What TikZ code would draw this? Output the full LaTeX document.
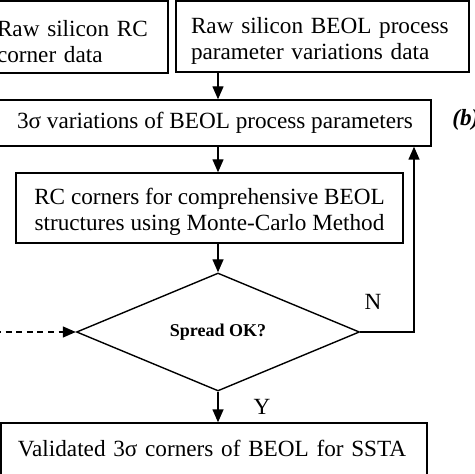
\documentclass[tikz,border=0pt]{standalone}
\usepackage{fontspec}
\setmainfont{Liberation Serif}
\usetikzlibrary{shapes.geometric,arrows.meta}
\newcommand{\uplift}{\rule{0pt}{12.2pt}}
\begin{document}
\begin{tikzpicture}[x=0.5pt,y=-0.5pt,
  box/.style={draw,line width=0.7pt,inner sep=0pt,font=\fontsize{11.6}{13}\selectfont},
  decide/.style={draw,diamond,line width=0.7pt,inner sep=0pt,minimum width=141.5pt,minimum height=59pt,font=\fontsize{9}{11}\selectfont\bfseries},
  arr/.style={line width=0.7pt,-{Triangle[length=6.5pt,width=5.5pt]}},
  lbl/.style={font=\fontsize{11.6}{13}\selectfont,inner sep=0pt}]
\useasboundingbox (0,0) rectangle (474,474);
\node[box,minimum width=94pt,minimum height=36pt,text width=77pt,align=left] (b1) at (74,37) {\uplift Raw silicon RC\\corner data};
\node[box,minimum width=146.5pt,minimum height=35.5pt,text width=131.5pt,align=left] (b2) at (322.5,36.5) {\uplift Raw silicon BEOL process\\parameter variations data};
\node[box,minimum width=216pt,minimum height=23pt,align=center] (b3) at (215,123) {3σ variations of BEOL process parameters};
\node[box,minimum width=193.5pt,minimum height=35pt,align=center] (b4) at (209.5,208) {\uplift RC corners for comprehensive BEOL\\structures using Monte-Carlo Method};
\node[decide] (d) at (218,332) {Spread OK?};
\node[box,minimum width=213pt,minimum height=26pt,text width=196pt,align=left] (b5) at (214,449) {Validated 3σ corners of BEOL for SSTA};
\node[anchor=west,inner sep=0pt,font=\fontsize{11.6}{13}\selectfont\bfseries\itshape] (tag) at (452,120) {(b)};
\node[lbl] (nl) at (373,302) {N};
\node[lbl] (yl) at (262,407) {Y};
\coordinate (fb) at (414,332);
\coordinate (ds) at (-5,332);
\draw[arr] (b2.south -| d.north) -- (b3.north -| d.north);
\draw[arr] (b3.south -| d.north) -- (b4.north -| d.north);
\draw[arr] (b4.south -| d.north) -- (d.north);
\draw[arr] (d.south) -- (b5.north -| d.south);
\draw[arr] (d.east) -- (fb) -- (b3.south -| fb);
\draw[arr,dash pattern=on 3pt off 2.3pt] (ds) -- (d.west);
\end{tikzpicture}
\end{document}
